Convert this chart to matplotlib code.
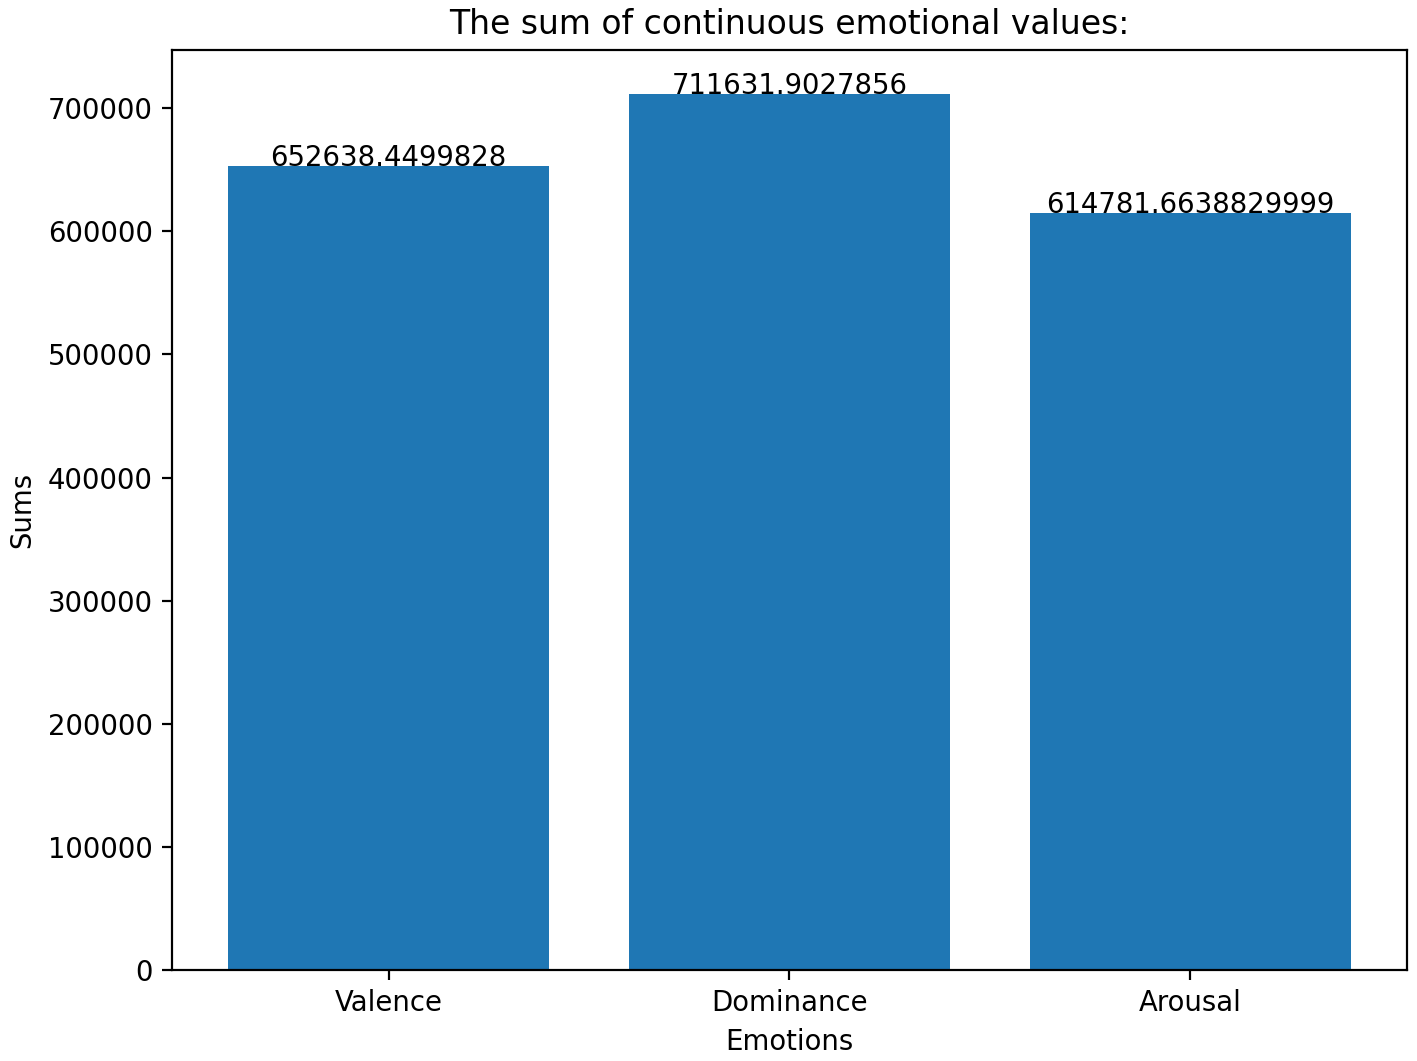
import matplotlib
matplotlib.use("Agg")
import matplotlib.pyplot as plt

emotions = ["Valence", "Dominance", "Arousal"]
sums = [652638.4499828, 711631.9027856, 614781.6638829999]

DPI = 198
fig = plt.figure(figsize=(1417 / DPI, 1061 / DPI), dpi=DPI)
fig.subplots_adjust(left=172 / 1417, right=1407 / 1417,
                    bottom=1 - 970 / 1061, top=1 - 50 / 1061)
ax = fig.add_subplot(111)

ax.bar(emotions, sums)
for i, v in enumerate(sums):
    ax.text(i, v, str(v), ha="center")

ax.set_title("The sum of continuous emotional values:")
ax.set_xlabel("Emotions")
ax.set_ylabel("Sums")

fig.savefig("out.png", dpi=DPI)
